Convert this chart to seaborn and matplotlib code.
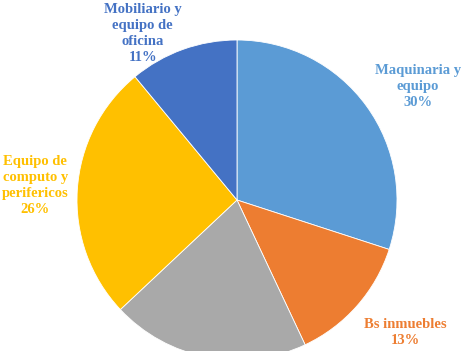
import matplotlib
matplotlib.use("Agg")
import matplotlib.pyplot as plt
import seaborn as sns

# data (clockwise from 12 o'clock)
categories = ["Maquinaria y\nequipo", "Bs inmuebles", "", "Equipo de\ncomputo y\nperifericos",
              "Mobiliario y\nequipo de\noficina"]
shares = [30, 13, 20, 26, 11]
colors = sns.color_palette(["#5B9BD5", "#ED7D31", "#A9A9A9", "#FFC000", "#4472C4"])

# label anchor points, in pie-radius units
label_pos = [(1.13, 0.71), (1.05, -0.83), None, (-1.26, 0.09), (-0.59, 1.04)]

sns.set_style("white")
plt.rcParams['font.family'] = ['Liberation Serif', 'DejaVu Serif']

fig = plt.figure(figsize=(4.74, 3.51), dpi=100)
ax = fig.add_axes([0, 0, 1, 1])

ax.pie(shares, colors=colors, startangle=90, counterclock=False, radius=1,
       wedgeprops=dict(linewidth=0.6, edgecolor="white"))

for name, val, col, pos in zip(categories, shares, colors, label_pos):
    if pos is None:
        continue
    ax.text(pos[0], pos[1], f"{name}\n{val}%", color=col, ha="center", va="center",
            fontsize=10.5, fontweight="bold", linespacing=1.3)

# crop the view like the original (bottom of the pie is cut)
ax.set_xlim(-237 / 160, 237 / 160)
ax.set_ylim(-151 / 160, 200 / 160)
ax.set_aspect("equal")
ax.axis("off")

fig.savefig("out.png", dpi=100)
